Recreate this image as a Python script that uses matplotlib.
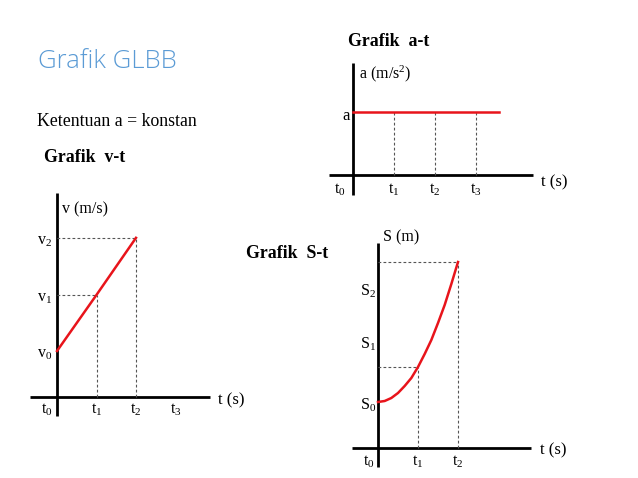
import matplotlib
matplotlib.use("Agg")
import matplotlib.pyplot as plt

plt.rcParams['mathtext.fontset'] = 'custom'
plt.rcParams['mathtext.rm'] = 'Liberation Serif'
plt.rcParams['mathtext.it'] = 'Liberation Serif'
plt.rcParams['font.family'] = ['Liberation Serif', 'DejaVu Serif']

W, H = 638, 478
fig = plt.figure(figsize=(W / 100, H / 100), dpi=100)
fig.patch.set_facecolor('white')

# ---------------- data ----------------
vt_t = [0, 1, 2, 3]
vt_t_labels = ['t_0', 't_1', 't_2', 't_3']
vt_v = [1.0, 2.22, 3.46]
vt_v_labels = ['v_0', 'v_1', 'v_2']

at_t = [0, 1, 2, 3]
at_t_labels = ['t_0', 't_1', 't_2', 't_3']
at_a = 1.0
at_line_end = 3.55

st_t = [0, 1, 2]
st_t_labels = ['t_0', 't_1', 't_2']
st_curve_t = [0, 1/6, 2/6, 3/6, 4/6, 5/6, 1, 7/6, 8/6, 9/6, 10/6, 11/6, 2]
st_curve_s = [4.6, 4.7, 5.0, 5.5, 6.2, 7.0, 8.1, 9.4, 10.8, 12.5, 14.3, 16.4, 18.6]
st_s_labels = ['S_0', 'S_1', 'S_2']
st_s_label_pos = [4.3, 10.4, 15.7]

RED = '#e8141b'
AX_LW = 2.0
DASH = dict(color='#555555', lw=0.8, ls=(0, (2.5, 2)))
FS = 11.5


def px(x, y):
    return x / W, 1 - y / H


def make_ax(ox, oy, sx, sy):
    ax = fig.add_axes([0, 0, 1, 1])
    ax.set_xlim(-ox / sx, (W - ox) / sx)
    ax.set_ylim((oy - H) / sy, oy / sy)
    ax.axis('off')
    ax.patch.set_alpha(0)
    return ax


def m(s):
    return r'$\mathregular{' + s + '}$'


# ---------------- slide text ----------------
fig.text(*px(38, 61), 'Grafik GLBB', family=['Open Sans', 'DejaVu Sans'],
         fontweight='light', fontsize=18.5, color='#5b9bd5', va='center', ha='left')
fig.text(*px(37, 121), 'Ketentuan a = konstan', fontsize=12.8, va='center', ha='left')
fig.text(*px(44, 157), 'Grafik  v-t', fontsize=12.8, fontweight='bold', va='center', ha='left')
fig.text(*px(348, 42), 'Grafik  a-t', fontsize=12.8, fontweight='bold', va='center', ha='left')
fig.text(*px(246, 254), 'Grafik  S-t', fontsize=12.8, fontweight='bold', va='center', ha='left')

# ---------------- v-t graph ----------------
sx, sy = 39.5, 46
ax = make_ax(57, 397, sx, sy)
ax.plot([-27 / sx, 153 / sx], [0, 0], color='black', lw=AX_LW, solid_capstyle='butt')
ax.plot([0, 0], [-19 / sy, 204 / sy], color='black', lw=AX_LW, solid_capstyle='butt')
# dashed guides
for ti, vi in zip(vt_t[1:3], vt_v[1:3]):
    ax.plot([0, ti], [vi, vi], **DASH)
    ax.plot([ti, ti], [0, vi], **DASH)
ax.plot(vt_t[:3], vt_v, color=RED, lw=1.8)
for i, (ti, lab) in enumerate(zip(vt_t, vt_t_labels)):
    xx = ti if i > 0 else -10 / sx
    ax.text(xx, -13 / sy, m(lab), fontsize=FS, ha='center', va='center')
for vi, lab in zip(vt_v, vt_v_labels):
    ax.text(-12 / sx, vi - 3 / sy, m(lab), fontsize=FS, ha='center', va='center')
ax.text(5 / sx, 188 / sy, 'v (m/s)', fontsize=FS, ha='left', va='center')
ax.text(161 / sx, -3 / sy, 't (s)', fontsize=FS + 0.5, ha='left', va='center')

# ---------------- a-t graph ----------------
sx, sy = 41, 63
ax = make_ax(353, 175, sx, sy)
ax.plot([-24 / sx, 180 / sx], [0, 0], color='black', lw=AX_LW, solid_capstyle='butt')
ax.plot([0, 0], [-20 / sy, 112 / sy], color='black', lw=AX_LW, solid_capstyle='butt')
for ti in at_t[1:]:
    ax.plot([ti, ti], [0, at_a], **DASH)
ax.plot([0, at_line_end], [at_a, at_a], color=RED, lw=1.8)
for i, (ti, lab) in enumerate(zip(at_t, at_t_labels)):
    xx = ti if i > 0 else -13 / sx
    ax.text(xx, -15 / sy, m(lab), fontsize=FS, ha='center', va='center')
ax.text(-3 / sx, at_a - 4 / sy, 'a', fontsize=FS + 0.5, ha='right', va='center')
ax.text(6 / sx, 101 / sy, m(r'a\ (m/s^2)'), fontsize=FS, ha='left', va='center')
ax.text(188 / sx, -7 / sy, 't (s)', fontsize=FS + 0.5, ha='left', va='center')

# ---------------- S-t graph ----------------
sx, sy = 40, 10
ax = make_ax(378, 448, sx, sy)
ax.plot([-26 / sx, 153 / sx], [0, 0], color='black', lw=AX_LW, solid_capstyle='butt')
ax.plot([0, 0], [-19 / sy, 205 / sy], color='black', lw=AX_LW, solid_capstyle='butt')
s_at = {0: st_curve_s[0], 1: st_curve_s[6], 2: st_curve_s[12]}
for ti in st_t[1:]:
    ax.plot([0, ti], [s_at[ti], s_at[ti]], **DASH)
    ax.plot([ti, ti], [0, s_at[ti]], **DASH)
ax.plot(st_curve_t, st_curve_s, color=RED, lw=1.8)
for i, (ti, lab) in enumerate(zip(st_t, st_t_labels)):
    xx = ti if i > 0 else -9 / sx
    ax.text(xx, -14 / sy, m(lab), fontsize=FS, ha='center', va='center')
for sv, lab in zip(st_s_label_pos, st_s_labels):
    ax.text(-10 / sx, sv, m(lab), fontsize=FS, ha='center', va='center')
ax.text(5 / sx, 211 / sy, 'S (m)', fontsize=FS, ha='left', va='center')
ax.text(162 / sx, -2 / sy, 't (s)', fontsize=FS + 0.5, ha='left', va='center')

fig.savefig('out.png', dpi=100, facecolor='white')
